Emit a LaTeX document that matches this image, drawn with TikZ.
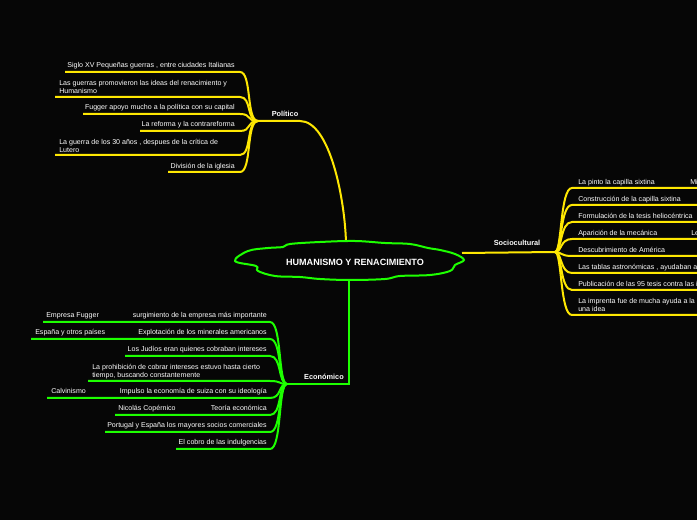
\documentclass[tikz,border=0pt]{standalone}
\usepackage{fontspec}
\setmainfont{Liberation Sans}
\begin{document}
\begin{tikzpicture}[x=0.75pt,y=-0.75pt,
  txt/.style={text=white,font=\fontsize{5.3}{6.2}\selectfont,inner sep=0pt},
  lbl/.style={text=white,font=\bfseries\fontsize{5.5}{6}\selectfont,inner sep=0pt},
  yl/.style={draw=yellow!90!orange,line width=1.5pt},
  gl/.style={draw=green!85!lime,line width=1.5pt}]
\definecolor{bg}{HTML}{060606}
\fill[bg] (0,0) rectangle (697,520);
\useasboundingbox (0,0) rectangle (697,520);
\clip (0,0) rectangle (697,520);
% Politico
\coordinate (ph) at (258,121);
\node[lbl,anchor=base] (pol) at (285,117) {Político};
\draw[yl] (ph) -- (300,121) .. controls (330,121) and (345,200) .. (346,243);
\foreach \i/\ty/\ul/\xl/\t in {
 1/68/72/65/{a},
 2/85/97/55/{b},
 3/110/114/83/{c},
 4/127/131/140/{d},
 5/144/155/55/{e},
 6/169/172/168/{f}}{
 \coordinate (pa\i) at (\xl,\ul);
 \coordinate (pb\i) at (240,\ul);
 \draw[yl] (pa\i) -- (pb\i) .. controls (252,\ul) and (246,121) .. (ph);
}
\node[txt,anchor=base east] (p1) at (235,68) {Siglo XV Pequeñas guerras , entre ciudades Italianas};
\node[txt,anchor=north west,align=left] (p2) at (59,80) {Las guerras promovieron las ideas del renacimiento y\\Humanismo};
\node[txt,anchor=base east] (p3) at (235,110) {Fugger apoyo mucho a la política con su capital};
\node[txt,anchor=base east] (p4) at (235,127) {La reforma y la contrareforma};
\node[txt,anchor=north west,align=left] (p5) at (59,139) {La guerra de los 30 años , despues de la crítica de\\Lutero};
\node[txt,anchor=base east] (p6) at (235,169) {División de la iglesia};
% Sociocultural
\coordinate (sh) at (555,252);
\node[lbl,anchor=base] (soc) at (517,246) {Sociocultural};
\draw[yl] (462,253) -- (sh);
\foreach \i/\ul in {1/188,2/205,3/222,4/239,5/256,6/273,7/290,8/315}{
 \coordinate (sa\i) at (572,\ul);
 \draw[yl] (sh) .. controls (562,252) and (560,\ul) .. (sa\i) -- (700,\ul);
}
\node[txt,anchor=base west] (s1) at (578,185) {La pinto la capilla sixtina};
\node[txt,anchor=base west] (s1b) at (690,185) {Miguel Ángel};
\node[txt,anchor=base west] (s2) at (578,202) {Construcción de la capilla sixtina};
\node[txt,anchor=base west] (s3) at (578,219) {Formulación de la tesis heliocéntrica};
\node[txt,anchor=base west] (s4) at (578,236) {Aparición de la mecánica};
\node[txt,anchor=base west] (s4b) at (691,236) {Leonardo da Vinci};
\node[txt,anchor=base west] (s5) at (578,253) {Descubrimiento de América};
\node[txt,anchor=base west] (s6) at (578,270) {Las tablas astronómicas , ayudaban a la navegación};
\node[txt,anchor=base west] (s7) at (578,287) {Publicación de las 95 tesis contra las indulgencias};
\node[txt,anchor=north west,align=left] (s8) at (578,298) {La imprenta fue de mucha ayuda a la difusión de\\una idea};
% Economico
\coordinate (eh) at (287,384);
\node[lbl,anchor=base] (eco) at (324,380) {Económico};
\draw[gl] (349,280) -- (349,384) -- (eh);
\foreach \i/\ul/\xl in {1/322/43,2/339/31,3/356/125,4/381/88,5/398/47,6/415/115,7/432/105,8/449/176}{
 \coordinate (ea\i) at (\xl,\ul);
 \draw[gl] (ea\i) -- (270,\ul) .. controls (282,\ul) and (278,384) .. (eh);
}
\node[txt,anchor=base east] (e1) at (267,318) {surgimiento de la empresa más importante};
\node[txt,anchor=base west] (e1b) at (46,318) {Empresa Fugger};
\node[txt,anchor=base east] (e2) at (267,335) {Explotación de los minerales americanos};
\node[txt,anchor=base west] (e2b) at (35,335) {España y otros países};
\node[txt,anchor=base east] (e3) at (267,352) {Los Judíos eran quienes cobraban intereses};
\node[txt,anchor=north west,align=left] (e4) at (92,364) {La prohibición de cobrar intereses estuvo hasta cierto\\tiempo, buscando constantemente};
\node[txt,anchor=base east] (e5) at (267,394) {Impulso la economía de suiza con su ideología};
\node[txt,anchor=base west] (e5b) at (51,394) {Calvinismo};
\node[txt,anchor=base east] (e6) at (267,411) {Teoría económica};
\node[txt,anchor=base west] (e6b) at (118,411) {Nicolás Copérnico};
\node[txt,anchor=base east] (e7) at (267,428) {Portugal y España los mayores socios comerciales};
\node[txt,anchor=base east] (e8) at (267,445) {El cobro de las indulgencias};
% Center cloud
\draw[draw=green!85!lime,line width=1.5pt,fill=bg] plot[smooth cycle,tension=0.6] coordinates{
 (235,261)(248,251)(268,248)(283,247)(290,244)(320,242)(355,241)(385,243)(410,244)(428,248)(440,250)(455,254)(464,260)(455,265)(450,271)(430,275)(400,276)(385,279)(350,280)(320,279)(300,277)(275,276)(258,271)(256,266)};
\node[lbl,font=\bfseries\fontsize{6.8}{8}\selectfont] (c) at (355,262) {HUMANISMO Y RENACIMIENTO};
\end{tikzpicture}
\end{document}
